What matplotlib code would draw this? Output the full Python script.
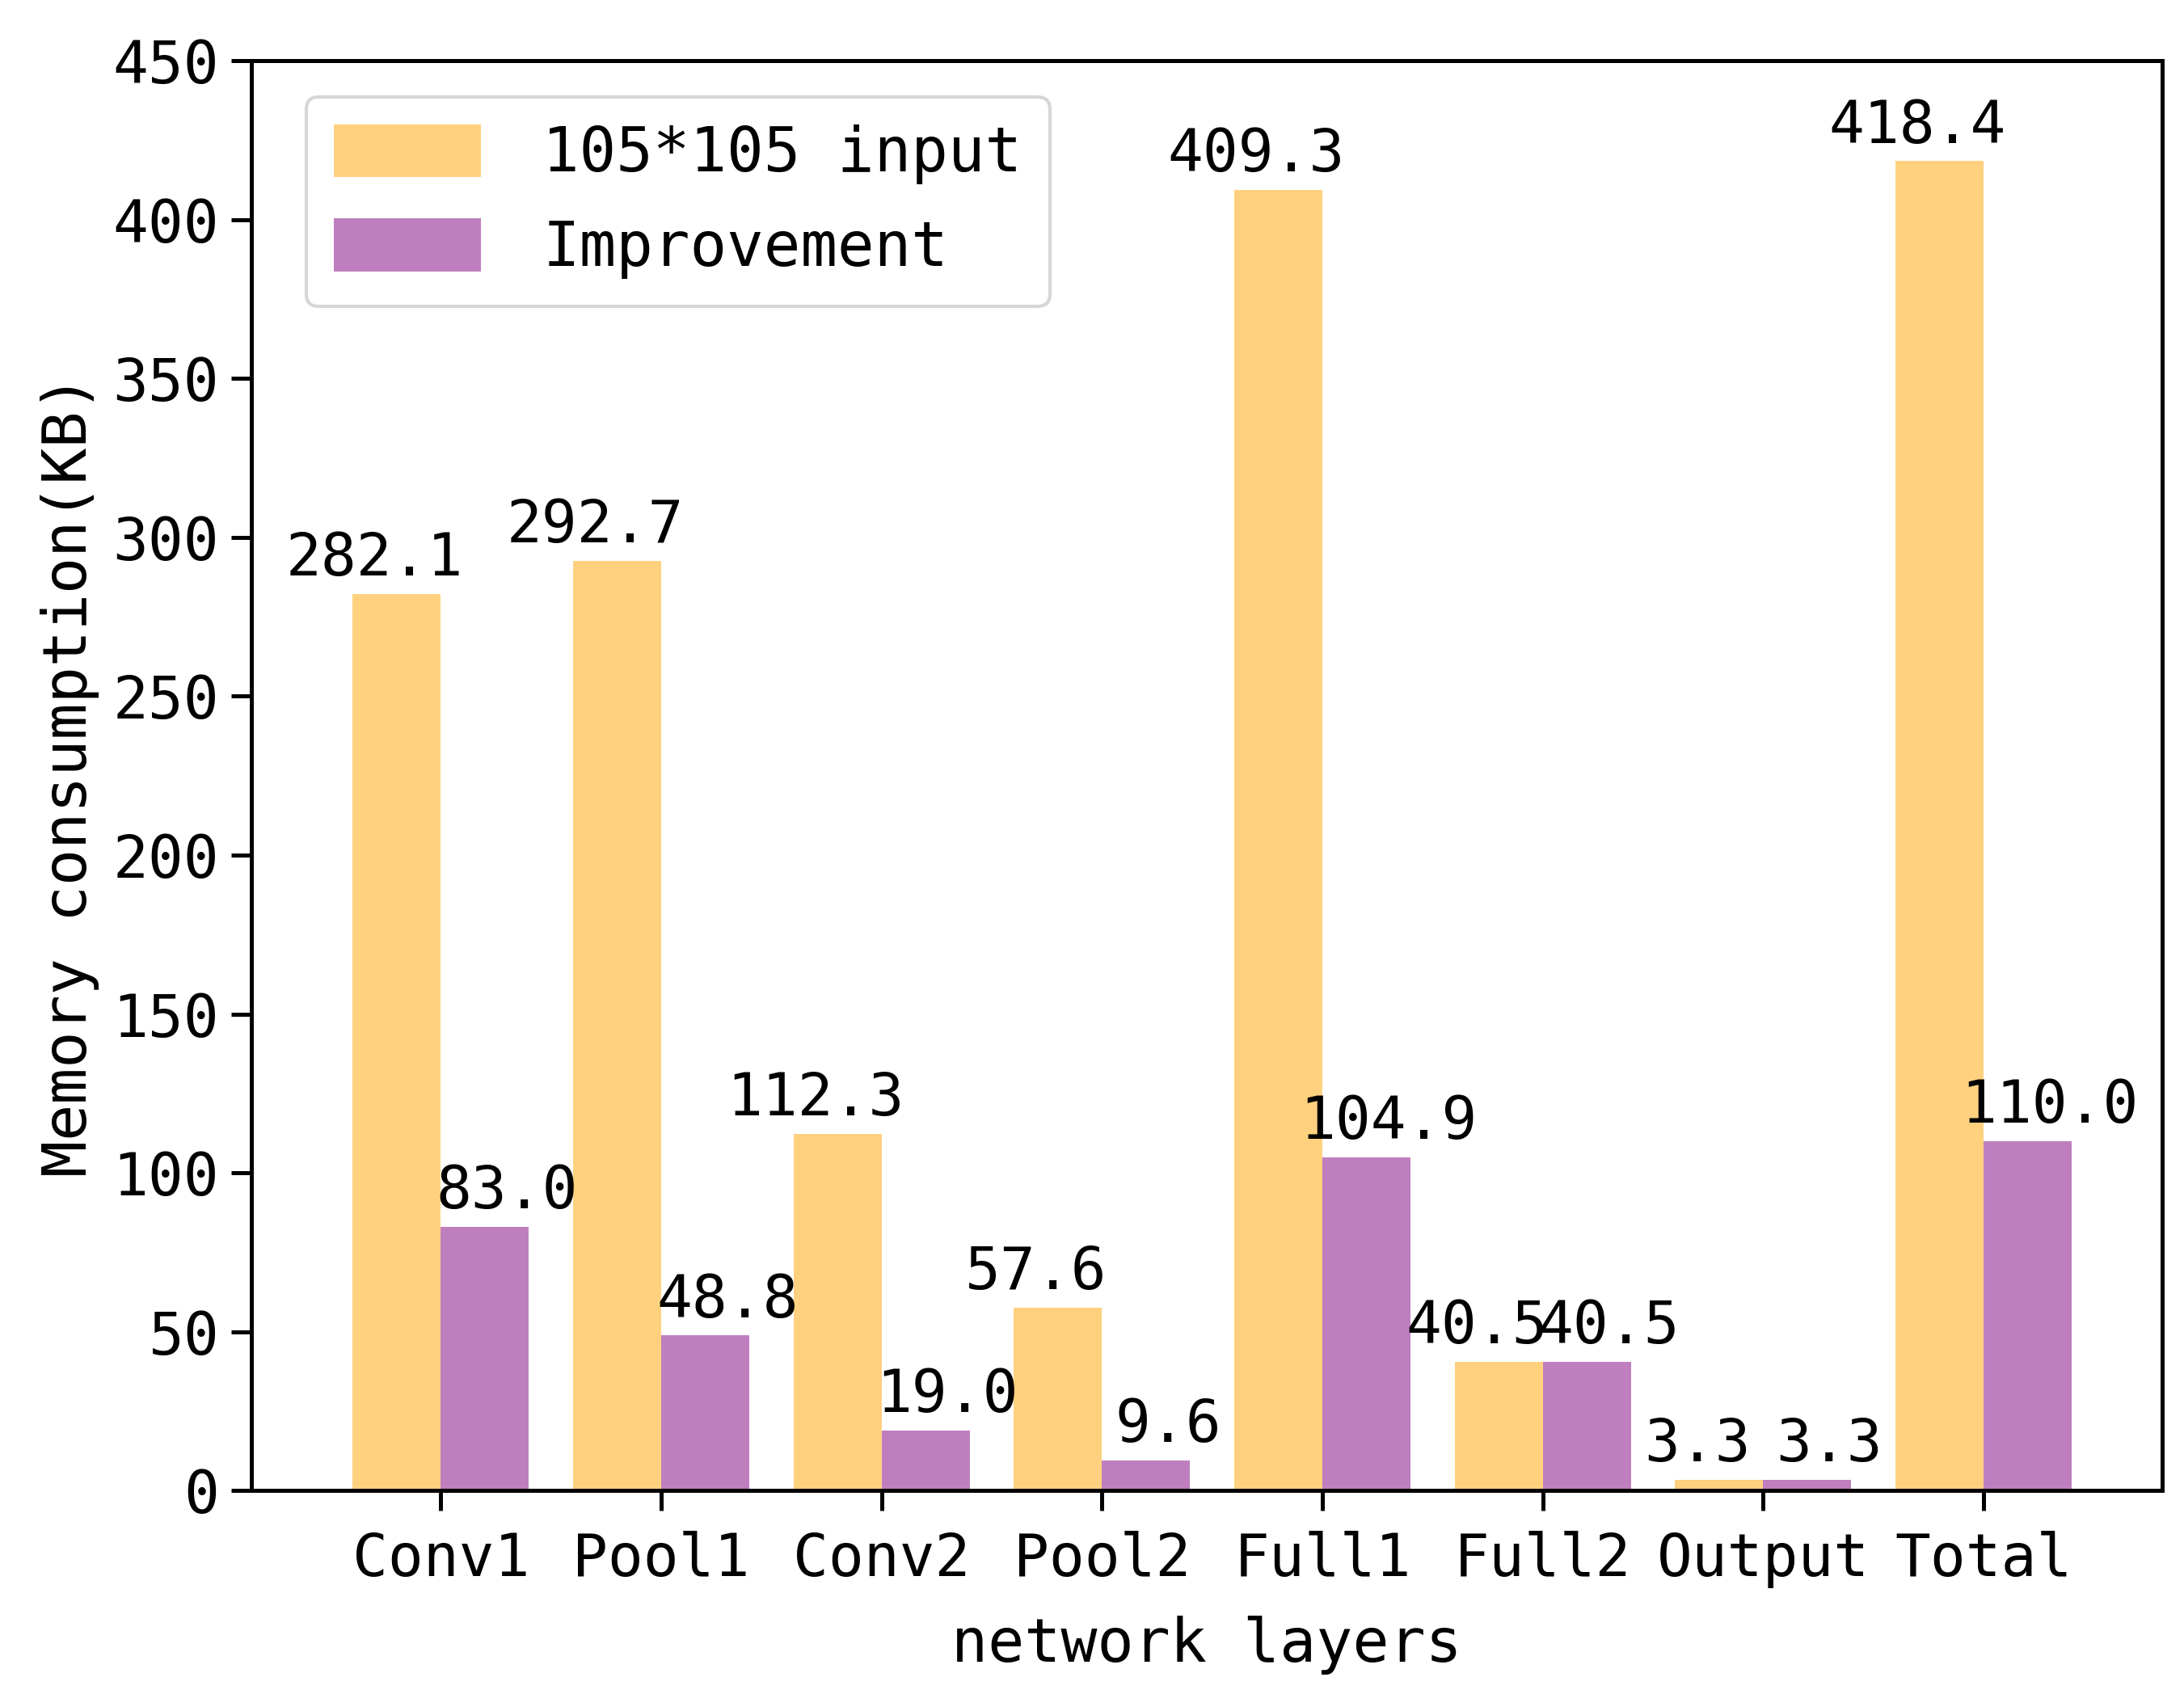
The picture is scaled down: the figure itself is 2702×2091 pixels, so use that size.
import matplotlib
matplotlib.use('Agg')
import matplotlib.pyplot as plt
import numpy as np

plt.rcParams['font.family'] = ['DejaVu Sans Mono', 'DejaVu Sans']

# data
layers = ['Conv1', 'Pool1', 'Conv2', 'Pool2', 'Full1', 'Full2', 'Output', 'Total']
input_105 = [282.1, 292.7, 112.3, 57.6, 409.3, 40.5, 3.3, 418.4]
improvement = [83.0, 48.8, 19.0, 9.6, 104.9, 40.5, 3.3, 110.0]

x = np.arange(len(layers))
width = 0.4

fig = plt.figure(figsize=(2702/300, 2091/300), dpi=300)
ax = fig.add_axes([0.115, 0.118, 0.875, 0.846])

ax.bar(x - width/2, input_105, width, color='orange', alpha=0.5, label='105*105 input')
ax.bar(x + width/2, improvement, width, color='purple', alpha=0.5, label='Improvement')

# value labels above each bar
for i in range(len(layers)):
    ax.text(x[i] - 0.3, input_105[i] + 2, '%.1f' % input_105[i], ha='center', va='bottom', fontsize=17.5)
    ax.text(x[i] + 0.3, improvement[i] + 2, '%.1f' % improvement[i], ha='center', va='bottom', fontsize=17.5)

ax.set_xlim(-0.86, 7.81)
ax.set_ylim(0, 450)
ax.set_yticks(range(0, 451, 50))
ax.set_xticks(x)
ax.set_xticklabels(layers, fontsize=17.5)
ax.tick_params(axis='y', labelsize=17.5)
ax.tick_params(axis='both', length=6, width=1.2)
ax.tick_params(axis='x', pad=6)
for key, spine in ax.spines.items():
    spine.set_linewidth(1.2)

ax.set_xlabel('network layers', fontsize=18, labelpad=8)
ax.set_ylabel('Memory consumption(KB)', fontsize=18)

ax.legend(loc='upper left', bbox_to_anchor=(0.029, 0.975), borderaxespad=0,
          fontsize=18.2, handlelength=2.4, handleheight=0.95, handletextpad=1.0,
          labelspacing=0.55, borderpad=0.45)

fig.savefig('out.png', dpi=300)
